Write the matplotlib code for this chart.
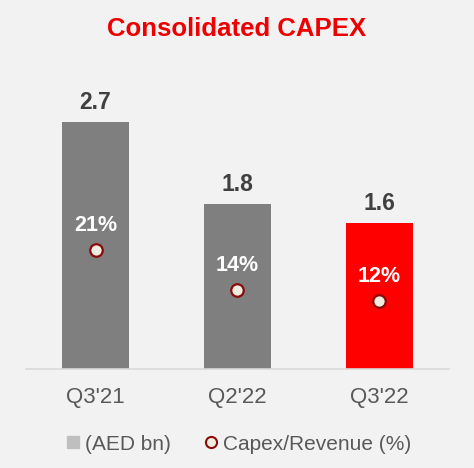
import matplotlib
matplotlib.use('Agg')
import matplotlib.pyplot as plt
from matplotlib.lines import Line2D

# dati
quarters = ["Q3'21", "Q2'22", "Q3'22"]
capex = [2.7, 1.8, 1.6]
capex_ratio = [21, 14, 12]
bar_colors = ['#7f7f7f', '#7f7f7f', '#ff0000']

plt.rcParams['font.family'] = ['Liberation Sans', 'DejaVu Sans']

bg = '#f2f2f2'
fig = plt.figure(figsize=(4.74, 4.68), dpi=100, facecolor=bg)

# assi in pixel: base a y=369, sinistra 26, destra 449
W, H = 474, 468
ax_h = 293
ax = fig.add_axes([26 / W, 99 / H, 423 / W, ax_h / H])
ax.set_facecolor(bg)
x = list(range(len(quarters)))
ax.bar(x, capex, width=0.47, color=bar_colors, zorder=2)
ax.set_xlim(-0.49, 2.49)
ax.set_ylim(0, ax_h / 91.5)
for xi, v in zip(x, capex):
    ax.annotate(f'{v}', (xi, v), xytext=(0, 14), textcoords='offset points',
                ha='center', va='center', fontsize=16.5, fontweight='bold', color='#404040')

for s in ['top', 'right', 'left']:
    ax.spines[s].set_visible(False)
ax.spines['bottom'].set_color('#d9d9d9')
ax.spines['bottom'].set_linewidth(1.2)
ax.set_yticks([])
ax.set_xticks(x)
ax.set_xticklabels(quarters, fontsize=16, color='#595959')
ax.tick_params(axis='x', length=0, pad=13)

# asse secondario per il rapporto capex/ricavi
ax2 = ax.twinx()
ax2.set_ylim(0, ax_h / 5.67)
ax2.axis('off')
ax2.plot(x, capex_ratio, linestyle='none', marker='o', markersize=9,
         markerfacecolor='#efede2', markeredgecolor='#8b0a0a', markeredgewidth=1.6, zorder=3)
for xi, v in zip(x, capex_ratio):
    ax2.annotate(f'{v}%', (xi, v), xytext=(0, 17.5), textcoords='offset points',
                 ha='center', va='center', fontsize=15.5, fontweight='bold', color='white')

fig.text(0.5, 1 - 27 / H, 'Consolidated CAPEX', ha='center', va='center_baseline',
         fontsize=18.5, fontweight='bold', color='#ee0000')

handles = [
    Line2D([], [], linestyle='none', marker='s', markersize=8,
           markerfacecolor='#bfbfbf', markeredgecolor='#bfbfbf'),
    Line2D([], [], linestyle='none', marker='o', markersize=8,
           markerfacecolor='#efede2', markeredgecolor='#8b0a0a', markeredgewidth=1.5),
]
fig.legend(handles, ['(AED bn)', 'Capex/Revenue (%)'], loc='center',
           bbox_to_anchor=(0.5, 1 - 444 / H), ncol=2, frameon=False,
           fontsize=15, labelcolor='#595959', handletextpad=0.1,
           columnspacing=1.4, handlelength=1.0)

fig.savefig('out.png', dpi=100, facecolor=bg)
